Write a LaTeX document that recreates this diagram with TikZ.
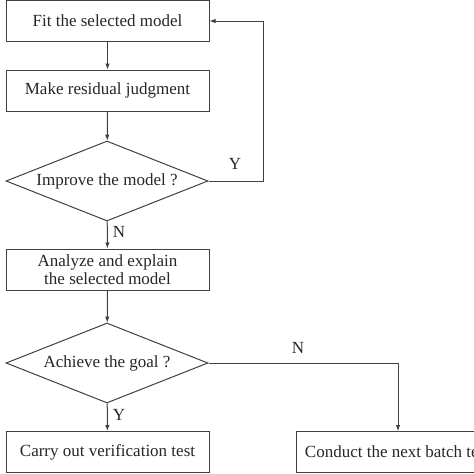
\documentclass[tikz,border=0pt]{standalone}
\usepackage{fontspec}
\setmainfont{Liberation Serif}
\usetikzlibrary{shapes.geometric,arrows.meta}
\begin{document}
\begin{tikzpicture}[x=1pt,y=-1pt,
  every node/.style={font=\fontsize{17}{20}\selectfont, text=black!85},
  procbox/.style={draw=black!75, line width=1pt, minimum width=203pt, minimum height=41pt, inner sep=0pt, align=center},
  decision/.style={draw=black!75, line width=1pt, diamond, aspect=2.525, minimum width=202pt, minimum height=80pt, inner sep=0pt},
  conn/.style={draw=black!75, line width=1pt, -{Latex[length=6pt,width=4.5pt]}},
  lbl/.style={inner sep=0pt}]
\useasboundingbox (0,0) rectangle (474,474);
\clip (0,0) rectangle (474,474);
\node[procbox] (fit) at (107.5,21) {Fit the selected model};
\node[procbox] (res) at (107.5,90.5) {Make residual judgment};
\node[decision] (imp) at (107,181) {Improve the model ?};
\node[procbox] (ana) at (107.5,269.5) {Analyze and explain\\[-2pt]the selected model};
\node[decision] (ach) at (107,363) {Achieve the goal ?};
\node[procbox] (ver) at (107.5,452) {Carry out verification test};
\node[procbox] (nxt) at (397.5,452) {Conduct the next batch test};
\coordinate (fb1) at (263,181);
\coordinate (fb2) at (263,21);
\coordinate (nb) at (398,363);
\draw[conn] (fit) -- (res);
\draw[conn] (res) -- (imp);
\draw[conn] (imp.east) -- (fb1) -- (fb2) -- (fit.east);
\draw[conn] (imp) -- (ana);
\draw[conn] (ana) -- (ach);
\draw[conn] (ach) -- (ver);
\draw[conn] (ach.east) -- (nb) -- (nxt.north -| nb);
\node[lbl] (ly1) at (235,164) {Y};
\node[lbl] (ln1) at (119,232) {N};
\node[lbl] (ln2) at (298,348) {N};
\node[lbl] (ly2) at (119,415) {Y};
\end{tikzpicture}
\end{document}
